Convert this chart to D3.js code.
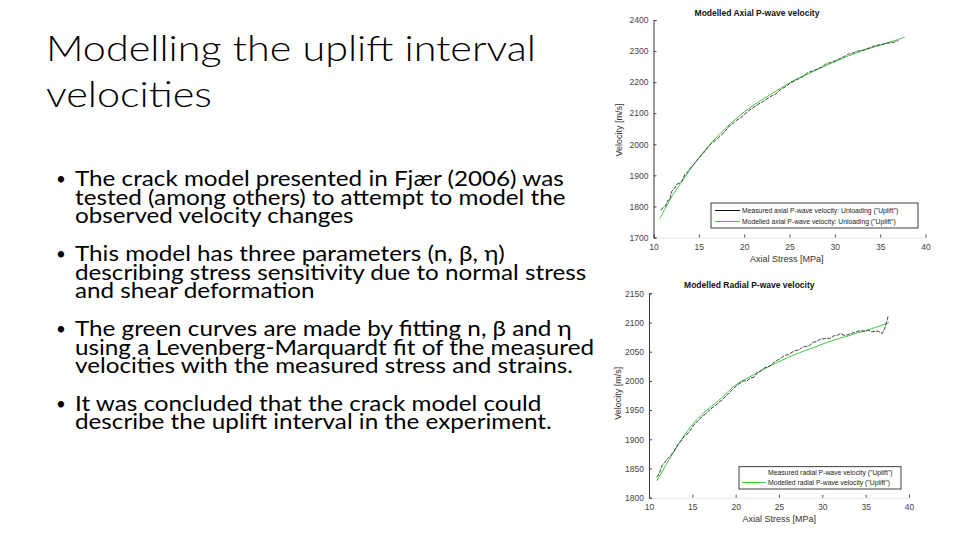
<!DOCTYPE html>
<html lang="en">
  <head>
    <meta charset="UTF-8" />
    <title>Modelling the uplift interval velocities</title>
    <script src="https://d3js.org/d3.v7.min.js"></script>
    <style>
      body {
        margin: 0;
        background: #fff;
      }
      svg {
        display: block;
      }
      .slide-text {
        font-family: Lato, "Open Sans", sans-serif;
        fill: #000;
        white-space: pre;
      }
      .chart text {
        font-family: "Liberation Sans", Arial, sans-serif;
      }
    </style>
  </head>
  <body>
    <svg id="slide" width="960" height="540" viewBox="0 0 960 540"></svg>

    <script>
      // slide text
      const titleLines = ["Modelling the uplift interval", "velocities"];
      const bullets = [
        [
          "The crack model presented  in Fjær (2006) was",
          "tested (among others) to attempt to model the",
          "observed velocity changes",
        ],
        [
          "This model has three parameters (n, β, η)",
          "describing stress sensitivity due to normal stress",
          "and shear deformation",
        ],
        [
          "The green curves are made by fitting n, β and η",
          "using a Levenberg-Marquardt fit of the measured",
          "velocities with the measured stress and strains.",
        ],
        [
          "It was concluded that the crack model could",
          "describe the uplift interval in the experiment.",
        ],
      ];

      // axial chart: [axial stress MPa, velocity m/s]
      const axialMeasured = [
        [10.8, 1788], [11.0, 1795], [11.3, 1800], [11.6, 1820], [11.8, 1822],
        [12.0, 1848], [12.3, 1858], [12.6, 1872], [12.9, 1875], [13.2, 1885],
        [13.5, 1905], [13.8, 1912], [14.1, 1925], [14.5, 1937], [14.9, 1952],
        [15.3, 1965], [15.7, 1978], [16.0, 1990], [16.4, 2003], [16.8, 2012],
        [17.2, 2022], [17.6, 2033], [18.0, 2046], [18.4, 2060], [18.8, 2068],
        [19.2, 2078], [19.6, 2085], [20.0, 2095], [20.5, 2108], [21.0, 2118],
        [21.5, 2128], [22.0, 2136], [22.5, 2146], [23.0, 2155], [23.5, 2162],
        [24.0, 2176], [24.5, 2184], [25.0, 2195], [25.5, 2203], [26.0, 2211],
        [26.5, 2218], [27.0, 2230], [27.5, 2236], [28.0, 2241], [28.5, 2248],
        [29.0, 2258], [29.5, 2263], [30.0, 2268], [30.5, 2275], [31.0, 2282],
        [31.5, 2290], [32.0, 2294], [32.5, 2300], [33.0, 2302], [33.5, 2307],
        [34.0, 2312], [34.5, 2318], [35.0, 2320], [35.5, 2324], [36.0, 2326],
        [36.5, 2328], [37.0, 2334],
      ];
      const axialModel = [
        [10.7, 1761], [11, 1777], [12, 1831], [13, 1874], [14, 1917],
        [15, 1957], [16, 1992], [17, 2024], [18, 2053], [19, 2080],
        [20, 2104], [22, 2144], [24, 2180], [25, 2198], [27, 2226],
        [30, 2266], [33, 2301], [35, 2319], [37.7, 2344],
      ];

      // radial chart
      const radialMeasured = [
        [10.9, 1835], [11.2, 1842], [11.5, 1855], [11.8, 1860], [12.1, 1866],
        [12.5, 1872], [12.9, 1880], [13.3, 1890], [13.7, 1897], [14.1, 1906],
        [14.5, 1910], [14.9, 1918], [15.3, 1927], [15.7, 1932], [16.1, 1939],
        [16.5, 1943], [16.9, 1949], [17.3, 1954], [17.7, 1958], [18.1, 1964],
        [18.5, 1968], [18.9, 1975], [19.3, 1980], [19.7, 1986], [20.1, 1992],
        [20.5, 1996], [20.9, 2000], [21.3, 2000], [21.7, 2005], [22.1, 2006],
        [22.5, 2014], [22.9, 2017], [23.3, 2022], [23.7, 2024], [24.1, 2027],
        [24.5, 2033], [24.9, 2036], [25.3, 2040], [25.7, 2044], [26.1, 2045],
        [26.5, 2049], [26.9, 2052], [27.3, 2053], [27.7, 2058], [28.1, 2059],
        [28.5, 2060], [28.9, 2066], [29.3, 2067], [29.7, 2071], [30.1, 2072],
        [30.5, 2073], [30.9, 2073], [31.3, 2077], [31.7, 2078], [32.1, 2081],
        [32.5, 2078], [32.9, 2079], [33.3, 2081], [33.7, 2083], [34.1, 2085],
        [34.5, 2086], [34.9, 2085], [35.3, 2087], [35.7, 2084], [36.1, 2085],
        [36.5, 2085], [36.9, 2081], [37.2, 2090], [37.5, 2105], [37.6, 2112],
      ];
      const radialModel = [
        [10.9, 1829], [12, 1857], [13, 1882], [14, 1905], [15, 1925],
        [16, 1941], [17, 1954], [18, 1966], [19, 1980], [20, 1993],
        [21, 2002], [22, 2010], [23, 2018], [24, 2026], [25, 2033],
        [26, 2040], [27, 2046], [28, 2052], [29, 2057], [30, 2063],
        [31, 2068], [32, 2073], [33, 2077], [34, 2082], [35, 2086],
        [36, 2091], [37, 2096], [37.7, 2100],
      ];

      const stressTicks = [10, 15, 20, 25, 30, 35, 40];
      const axialTicks = [1700, 1800, 1900, 2000, 2100, 2200, 2300, 2400];
      const radialTicks = [1800, 1850, 1900, 1950, 2000, 2050, 2100, 2150];

      const svg = d3.select("#slide");
      svg.append("rect").attr("width", 960).attr("height", 540).attr("fill", "#fff");

      // ---- left side text ----
      // squeeze Lato down to the Calibri widths of the original slide
      function squeeze(sel, sx) {
        sel.each(function () {
          const w = this.getComputedTextLength();
          d3.select(this)
            .attr("textLength", w * sx)
            .attr("lengthAdjust", "spacingAndGlyphs");
        });
      }

      const title = svg
        .append("g")
        .attr("class", "slide-text")
        .selectAll("text")
        .data(titleLines)
        .join("text")
        .attr("x", 46)
        .attr("y", (d, i) => 61 + i * 45.5)
        .attr("font-size", 36)
        .attr("font-weight", 300)
        .text((d) => d);
      const titleSx = 490 / title.node().getComputedTextLength();
      squeeze(title, titleSx);

      const body = svg.append("g").attr("class", "slide-text");
      let y = 186;
      const bodyRows = [];
      bullets.forEach((lines) => {
        body
          .append("text")
          .attr("x", 56)
          .attr("y", y - 1)
          .attr("font-size", 17)
          .text("•");
        lines.forEach((line) => {
          bodyRows.push(
            body
              .append("text")
              .attr("x", 75)
              .attr("y", y)
              .attr("font-size", 21.5)
              .text(line)
          );
          y += 18.7;
        });
        y += 18.8;
      });
      const refRow = bodyRows[7]; // "using a Levenberg-Marquardt ..." ends near x=594
      const bodySx = 519 / refRow.node().getComputedTextLength();
      bodyRows.forEach((r) => squeeze(r, bodySx));

      // ---- charts ----
      function drawChart(cfg) {
        const g = svg.append("g").attr("class", "chart");
        const x = d3.scaleLinear().domain([10, 40]).range(cfg.xRange);
        const yS = d3.scaleLinear().domain(cfg.yDomain).range(cfg.yRange);

        const xAxis = g
          .append("g")
          .attr("transform", `translate(0,${cfg.yRange[0]})`)
          .call(d3.axisBottom(x).tickValues(stressTicks).tickSize(-3).tickPadding(6));
        xAxis.select(".domain").attr("stroke", "#e4e4e4");
        xAxis.selectAll(".tick line").attr("stroke", "#555");
        xAxis
          .selectAll(".tick text")
          .attr("fill", "#444")
          .attr("font-size", 8.5)
          .attr("dy", "0.71em");

        const yAxis = g
          .append("g")
          .attr("transform", `translate(${cfg.xRange[0]},0)`)
          .call(
            d3.axisLeft(yS).tickValues(cfg.yTicks).tickSize(-3).tickPadding(5).tickFormat(d3.format("d"))
          );
        yAxis.select(".domain").attr("stroke", "#222").attr("stroke-width", 0.9);
        yAxis.selectAll(".tick line").attr("stroke", "#444");
        yAxis.selectAll(".tick text").attr("fill", "#444").attr("font-size", 8.5);

        const line = d3
          .line()
          .x((d) => x(d[0]))
          .y((d) => yS(d[1]));

        g.append("path")
          .datum(cfg.model)
          .attr("fill", "none")
          .attr("stroke", "#3fcc3f")
          .attr("stroke-width", 1)
          .attr("d", line.curve(d3.curveMonotoneX));

        g.append("path")
          .datum(cfg.measured)
          .attr("fill", "none")
          .attr("stroke", "#111")
          .attr("stroke-width", 0.8)
          .attr("stroke-dasharray", "4 1.2")
          .attr("d", line.curve(d3.curveLinear));

        g.append("text")
          .attr("x", cfg.title[1])
          .attr("y", cfg.title[2])
          .attr("text-anchor", "middle")
          .attr("font-size", 8.5)
          .attr("font-weight", "bold")
          .attr("fill", "#111")
          .text(cfg.title[0]);

        g.append("text")
          .attr("x", cfg.xLabel[0])
          .attr("y", cfg.xLabel[1])
          .attr("text-anchor", "middle")
          .attr("font-size", 9)
          .attr("fill", "#333")
          .text("Axial Stress [MPa]");

        g.append("text")
          .attr("transform", `translate(${cfg.yLabel[0]},${cfg.yLabel[1]}) rotate(-90)`)
          .attr("text-anchor", "middle")
          .attr("font-size", 9)
          .attr("fill", "#333")
          .text("Velocity [m/s]");

        // legend
        const lg = g.append("g");
        const b = cfg.legend;
        lg.append("rect")
          .attr("x", b.x0)
          .attr("y", b.y0)
          .attr("width", b.x1 - b.x0)
          .attr("height", b.y1 - b.y0)
          .attr("fill", "#fff")
          .attr("stroke", "#111")
          .attr("stroke-width", 0.8);
        b.rows.forEach((r) => {
          if (r.color) {
            lg.append("line")
              .attr("x1", b.lx0)
              .attr("x2", b.lx1)
              .attr("y1", r.y)
              .attr("y2", r.y)
              .attr("stroke", r.color)
              .attr("stroke-width", 1);
          }
          lg.append("text")
            .attr("x", b.lx1 + 2)
            .attr("y", r.y)
            .attr("dy", "0.35em")
            .attr("font-size", 6.8)
            .attr("fill", "#222")
            .text(r.label);
        });
      }

      drawChart({
        xRange: [653.5, 925.5],
        yDomain: [1700, 2400],
        yRange: [237.5, 20],
        yTicks: axialTicks,
        measured: axialMeasured,
        model: axialModel,
        title: ["Modelled Axial P-wave velocity", 757, 15.5],
        xLabel: [786.7, 262],
        yLabel: [622, 130],
        legend: {
          x0: 711, x1: 918, y0: 203, y1: 228, lx0: 715, lx1: 740,
          rows: [
            { y: 210.5, color: "#111", label: 'Measured axial P-wave velocity: Unloading ("Uplift")' },
            { y: 221.5, color: "#3fcc3f", label: 'Modelled axial P-wave velocity: Unloading ("Uplift")' },
          ],
        },
      });

      drawChart({
        xRange: [649, 909],
        yDomain: [1800, 2150],
        yRange: [497.7, 293.3],
        yTicks: radialTicks,
        measured: radialMeasured,
        model: radialModel,
        title: ["Modelled Radial P-wave velocity", 749.3, 287.5],
        xLabel: [779.3, 521.5],
        yLabel: [620.5, 393.3],
        legend: {
          x0: 739, x1: 901, y0: 466.7, y1: 489, lx0: 742, lx1: 766,
          rows: [
            { y: 473, color: null, label: 'Measured radial P-wave velocity ("Uplift")' },
            { y: 482.5, color: "#3fcc3f", label: 'Modelled radial P-wave velocity ("Uplift")' },
          ],
        },
      });
    </script>
  </body>
</html>
